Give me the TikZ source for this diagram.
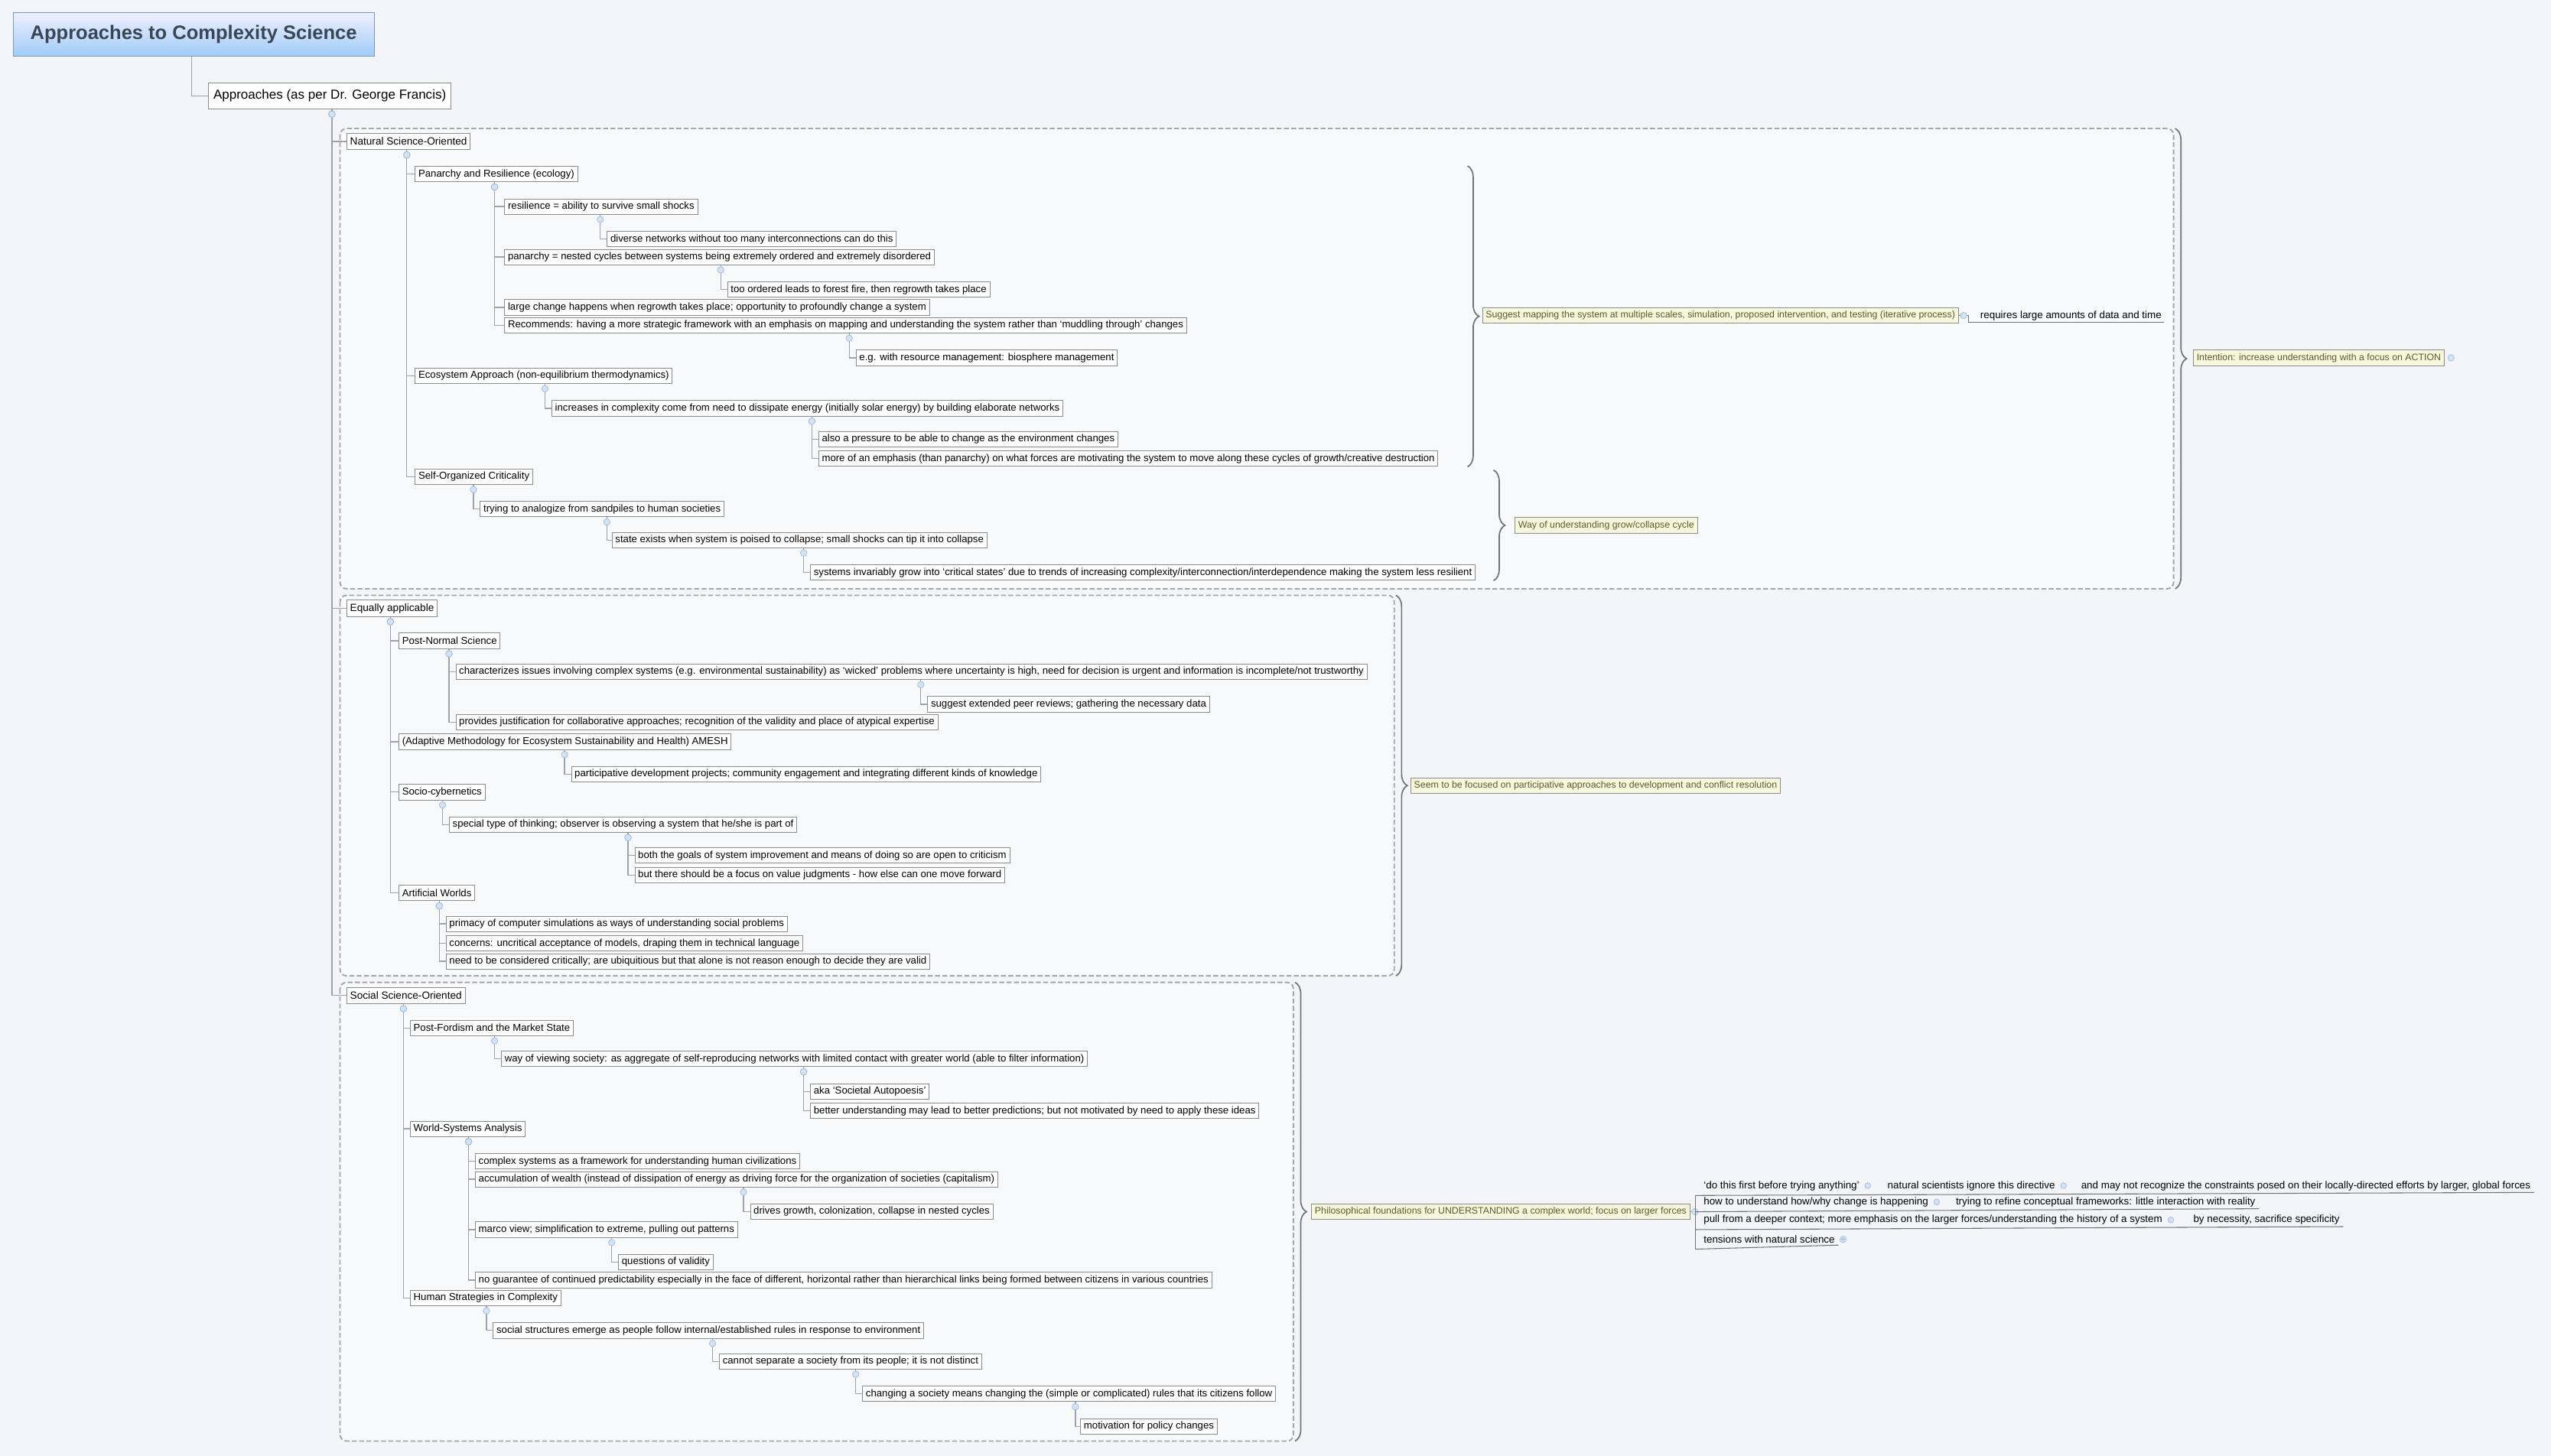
\documentclass[tikz,border=0pt]{standalone}
\usepackage{fontspec}
\setmainfont{Liberation Sans}
\usetikzlibrary{decorations.pathreplacing,calc}
\definecolor{bgc}{HTML}{F3F5F8}
\definecolor{grpc}{HTML}{F8F9FB}
\definecolor{boxc}{HTML}{8C8C8C}
\definecolor{edgec}{HTML}{9AA3AE}
\definecolor{knobc}{HTML}{D3E2F4}
\definecolor{knobd}{HTML}{9FB8D6}
\definecolor{notef}{HTML}{F7F7DE}
\definecolor{notet}{HTML}{5C5C2E}
\definecolor{rootd}{HTML}{7C98B6}
\definecolor{roott}{HTML}{3A4653}
\tikzset{
 leaf/.style={draw=boxc, fill=white, anchor=west, font=\fontsize{6.2}{7}\selectfont, inner xsep=2pt, inner ysep=1.5pt, minimum height=9.5pt, line width=0.4pt},
 lvone/.style={leaf, font=\fontsize{6.4}{7}\selectfont, minimum height=10pt},
 note/.style={leaf, fill=notef, text=notet, font=\fontsize{5.8}{6.5}\selectfont},
 plain/.style={anchor=west, font=\fontsize{6.3}{7}\selectfont, inner xsep=2pt, inner ysep=1pt},
 edge/.style={draw=edgec, line width=0.6pt},
 grp/.style={draw=black!35, dashed, dash pattern=on 3pt off 1.5pt, line width=0.9pt, rounded corners=4pt, fill=grpc},
 brc/.style={draw=black!55, line width=0.8pt, decorate, decoration={brace, amplitude=7pt}},
 knob/.style={draw=knobd, fill=knobc, line width=0.3pt},
 uline/.style={draw=black!55, line width=0.5pt}
}
\newcommand{\conn}[3]{\draw[edge] ({#3},0 |- #1.south) |- (#2.west);\fill[knob] ($({#3},0 |- #1.south)+(0,3)$) circle (2pt);}
\begin{document}
\begin{tikzpicture}[x=1pt,y=-1pt]
\fill[bgc] (0,0) rectangle (1568,895);
\useasboundingbox (0,0) rectangle (1568,895);
% groups
\path[grp] (209,79) rectangle (1336,362);
\path[grp] (209,366) rectangle (857,600);
\path[grp] (209,604) rectangle (795,886);
% root
\node[draw=rootd, top color=blue!6!white, bottom color={rgb,255:red,160;green,204;blue,248}, minimum width=222pt, minimum height=27pt, font=\bfseries\fontsize{12}{14}\selectfont, text=roott] (root) at (119,21) {Approaches to Complexity Science};
\node[draw=boxc, fill=white, anchor=west, font=\fontsize{8}{9}\selectfont, minimum height=16pt, inner xsep=3pt] (A) at (128,59) {Approaches (as per Dr. George Francis)};
\draw[edge] ($(root.south west)+(110,0)$) |- (A.west);
% level 1
\node[lvone] (N) at (213,87) {Natural Science-Oriented};
\node[lvone] (E) at (213,374) {Equally applicable};
\node[lvone] (S) at (213,612) {Social Science-Oriented};
\conn{A}{N}{204}\conn{A}{E}{204}\conn{A}{S}{204}
% Natural
\node[leaf] (n1) at (255,107) {Panarchy and Resilience (ecology)};
\node[leaf] (n11) at (310,127) {resilience = ability to survive small shocks};
\node[leaf] (n111) at (373,147) {diverse networks without too many interconnections can do this};
\node[leaf] (n12) at (310,158) {panarchy = nested cycles between systems being extremely ordered and extremely disordered};
\node[leaf] (n121) at (447,178) {too ordered leads to forest fire, then regrowth takes place};
\node[leaf] (n13) at (310,189) {large change happens when regrowth takes place; opportunity to profoundly change a system};
\node[leaf] (n14) at (310,200) {Recommends: having a more strategic framework with an emphasis on mapping and understanding the system rather than `muddling through' changes};
\node[leaf] (n141) at (526,220) {e.g. with resource management: biosphere management};
\node[leaf] (n2) at (255,231) {Ecosystem Approach (non-equilibrium thermodynamics)};
\node[leaf] (n21) at (339,251) {increases in complexity come from need to dissipate energy (initially solar energy) by building elaborate networks};
\node[leaf] (n211) at (503,270) {also a pressure to be able to change as the environment changes};
\node[leaf] (n212) at (503,282) {more of an emphasis (than panarchy) on what forces are motivating the system to move along these cycles of growth/creative destruction};
\node[leaf] (n3) at (255,293) {Self-Organized Criticality};
\node[leaf] (n31) at (295,313) {trying to analogize from sandpiles to human societies};
\node[leaf] (n311) at (376,332) {state exists when system is poised to collapse; small shocks can tip it into collapse};
\node[leaf] (n3111) at (498,352) {systems invariably grow into `critical states' due to trends of increasing complexity/interconnection/interdependence making the system less resilient};
\conn{N}{n1}{250}\conn{N}{n2}{250}\conn{N}{n3}{250}
\conn{n1}{n11}{304}\conn{n1}{n12}{304}\conn{n1}{n13}{304}\conn{n1}{n14}{304}
\conn{n11}{n111}{369}\conn{n12}{n121}{443}\conn{n14}{n141}{522}
\conn{n2}{n21}{335}\conn{n21}{n211}{499}\conn{n21}{n212}{499}
\conn{n3}{n31}{291}\conn{n31}{n311}{373}\conn{n311}{n3111}{494}
% Equally
\node[leaf] (e1) at (245,394) {Post-Normal Science};
\node[leaf] (e11) at (280,413) {characterizes issues involving complex systems (e.g. environmental sustainability) as `wicked' problems where uncertainty is high, need for decision is urgent and information is incomplete/not trustworthy};
\node[leaf] (e111) at (570,433) {suggest extended peer reviews; gathering the necessary data};
\node[leaf] (e12) at (280,444) {provides justification for collaborative approaches; recognition of the validity and place of atypical expertise};
\node[leaf] (e2) at (245,456) {(Adaptive Methodology for Ecosystem Sustainability and Health) AMESH};
\node[leaf] (e21) at (351,476) {participative development projects; community engagement and integrating different kinds of knowledge};
\node[leaf] (e3) at (245,487) {Socio-cybernetics};
\node[leaf] (e31) at (276,507) {special type of thinking; observer is observing a system that he/she is part of};
\node[leaf] (e311) at (390,526) {both the goals of system improvement and means of doing so are open to criticism};
\node[leaf] (e312) at (390,538) {but there should be a focus on value judgments - how else can one move forward};
\node[leaf] (e4) at (245,549) {Artificial Worlds};
\node[leaf] (e41) at (274,568) {primacy of computer simulations as ways of understanding social problems};
\node[leaf] (e42) at (274,580) {concerns: uncritical acceptance of models, draping them in technical language};
\node[leaf] (e43) at (274,591) {need to be considered critically; are ubiquitious but that alone is not reason enough to decide they are valid};
\conn{E}{e1}{240}\conn{E}{e2}{240}\conn{E}{e3}{240}\conn{E}{e4}{240}
\conn{e1}{e11}{276}\conn{e1}{e12}{276}\conn{e11}{e111}{566}
\conn{e2}{e21}{347}
\conn{e3}{e31}{272}\conn{e31}{e311}{386}\conn{e31}{e312}{386}
\conn{e4}{e41}{270}\conn{e4}{e42}{270}\conn{e4}{e43}{270}
% Social
\node[leaf] (s1) at (252,632) {Post-Fordism and the Market State};
\node[leaf] (s11) at (308,651) {way of viewing society: as aggregate of self-reproducing networks with limited contact with greater world (able to filter information)};
\node[leaf] (s111) at (498,671) {aka `Societal Autopoesis'};
\node[leaf] (s112) at (498,683) {better understanding may lead to better predictions; but not motivated by need to apply these ideas};
\node[leaf] (s2) at (252,694) {World-Systems Analysis};
\node[leaf] (s21) at (292,714) {complex systems as a framework for understanding human civilizations};
\node[leaf] (s22) at (292,725) {accumulation of wealth (instead of dissipation of energy as driving force for the organization of societies (capitalism)};
\node[leaf] (s221) at (461,745) {drives growth, colonization, collapse in nested cycles};
\node[leaf] (s23) at (292,756) {marco view; simplification to extreme, pulling out patterns};
\node[leaf] (s231) at (380,776) {questions of validity};
\node[leaf] (s24) at (292,787) {no guarantee of continued predictability especially in the face of different, horizontal rather than hierarchical links being formed between citizens in various countries};
\node[leaf] (s3) at (252,798) {Human Strategies in Complexity};
\node[leaf] (s31) at (303,818) {social structures emerge as people follow internal/established rules in response to environment};
\node[leaf] (s311) at (442,837) {cannot separate a society from its people; it is not distinct};
\node[leaf] (s3111) at (530,857) {changing a society means changing the (simple or complicated) rules that its citizens follow};
\node[leaf] (s31111) at (664,877) {motivation for policy changes};
\conn{S}{s1}{248}\conn{S}{s2}{248}\conn{S}{s3}{248}
\conn{s1}{s11}{304}\conn{s11}{s111}{494}\conn{s11}{s112}{494}
\conn{s2}{s21}{288}\conn{s2}{s22}{288}\conn{s2}{s23}{288}\conn{s2}{s24}{288}
\conn{s22}{s221}{457}\conn{s23}{s231}{376}
\conn{s3}{s31}{299}\conn{s31}{s311}{438}\conn{s311}{s3111}{526}\conn{s3111}{s31111}{661}
% braces and notes
\node[note] (b1) at (911,194) {Suggest mapping the system at multiple scales, simulation, proposed intervention, and testing (iterative process)};
\node[plain] (b11) at (1215,194) {requires large amounts of data and time};
\draw[uline] (b1.east) -- ++(6,0) |- (1330,0 |- b11.south);
\fill[knob] ($(b1.east)+(3,0)$) circle (2pt);
\node[note] (b2) at (931,323) {Way of understanding grow/collapse cycle};
\node[note] (b3) at (1348,220) {Intention: increase understanding with a focus on ACTION};
\fill[knob] ($(b3.east)+(4,0)$) circle (2pt);
\node[note] (b4) at (867,483) {Seem to be focused on participative approaches to development and conflict resolution};
\node[note] (b5) at (806,745) {Philosophical foundations for UNDERSTANDING a complex world; focus on larger forces};
\draw[brc] (902,102) -- (902,287);
\draw[brc] (918,289) -- (918,357);
\draw[brc] (1337,79) -- (1337,362);
\draw[brc] (858,366) -- (858,600);
\draw[brc] (796,604) -- (796,886);
% philosophical children
\node[plain] (p1) at (1045,729) {`do this first before trying anything'};
\node[plain] (p1a) at (1158,729) {natural scientists ignore this directive};
\node[plain] (p1b) at (1277,729) {and may not recognize the constraints posed on their locally-directed efforts by larger, global forces};
\node[plain] (p2) at (1045,739) {how to understand how/why change is happening};
\node[plain] (p2a) at (1200,739) {trying to refine conceptual frameworks: little interaction with reality};
\node[plain] (p3) at (1045,750) {pull from a deeper context; more emphasis on the larger forces/understanding the history of a system};
\node[plain] (p3a) at (1346,750) {by necessity, sacrifice specificity};
\node[plain] (p4) at (1045,762) {tensions with natural science};
\draw[uline] (b5.east) -- ++(5,0);
\fill[knob] ($(b5.east)+(3,0)$) circle (2pt);
\draw[uline] (1042,735) -- (1042,768);
\draw[uline] (1042,735) -- (p1b.south east);
\draw[uline] (1042,745) -- (p2a.south east);
\draw[uline] (1042,756) -- (p3a.south east);
\draw[uline] (1042,768) -- (p4.south east);
\foreach \n in {p1,p1a,p2,p3}{\fill[knob] ($(\n.east)+(3,0)$) circle (1.8pt);}
\draw[knob] ($(p4.east)+(3,0)$) circle (2pt);
\draw[knobd,line width=0.4pt] ($(p4.east)+(1.8,0)$) -- ++(2.4,0) ($(p4.east)+(3,-1.2)$) -- ++(0,2.4);
\end{tikzpicture}
\end{document}
